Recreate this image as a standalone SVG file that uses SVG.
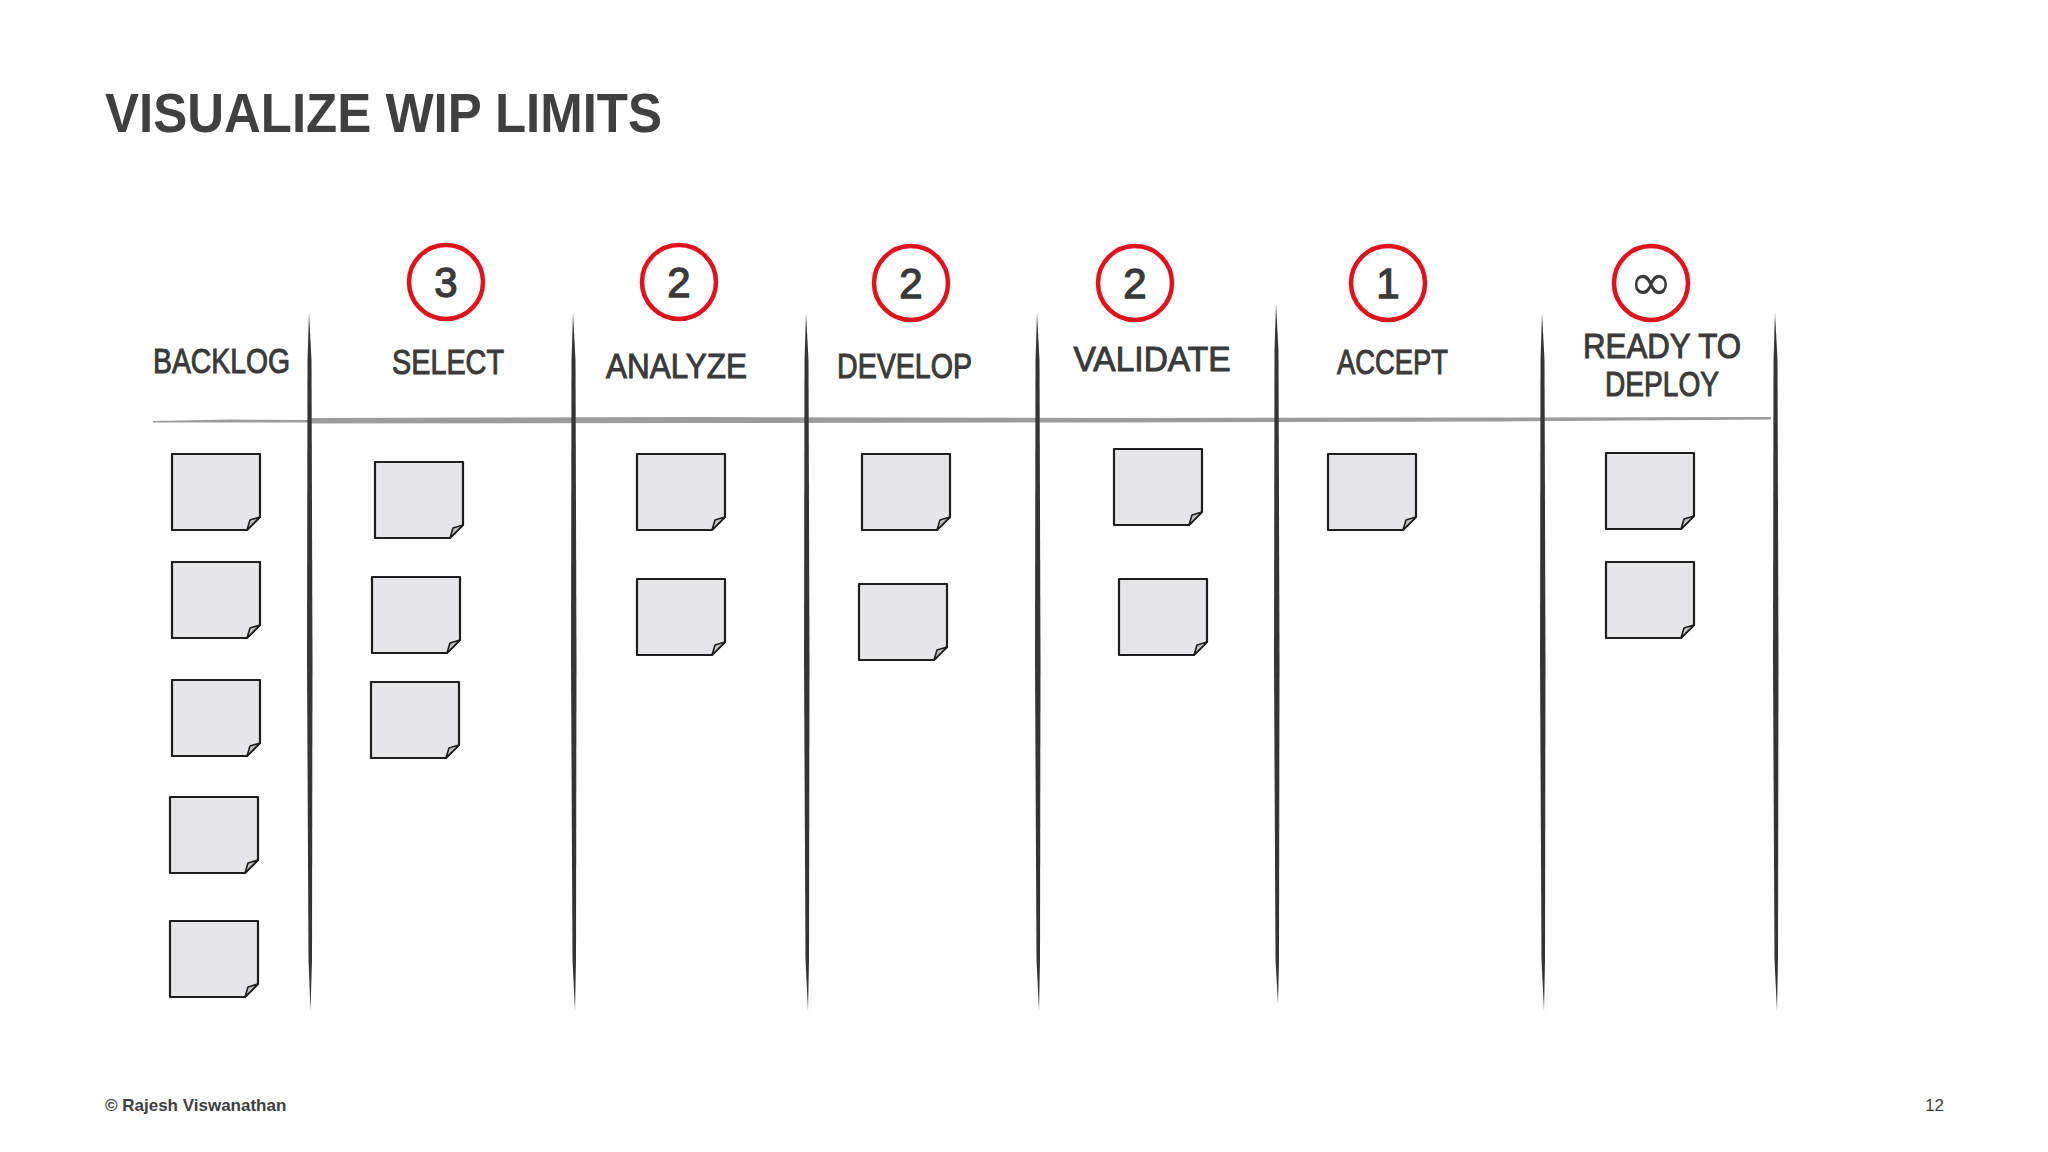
<svg xmlns="http://www.w3.org/2000/svg" width="2048" height="1152" viewBox="0 0 2048 1152">
<defs>
<style>
.title{font-family:"Liberation Sans",Arial,sans-serif;font-weight:bold;font-size:56px;fill:#404040}
.lbl{font-family:"Liberation Sans",Arial,sans-serif;font-size:35px;fill:#3a3a3a;stroke:#3a3a3a;stroke-width:1;text-anchor:middle}
.num{font-family:"Liberation Sans",Arial,sans-serif;font-size:42px;fill:#3a3a3a;stroke:#3a3a3a;stroke-width:1.3;text-anchor:middle}
.inf{font-family:"DejaVu Sans",sans-serif;font-size:52px;fill:#3a3a3a;text-anchor:middle}
.ring{fill:none;stroke:#e1121c;stroke-width:4.5}
.foot{font-family:"Liberation Sans",Arial,sans-serif;font-size:17px;fill:#404040}
.col{fill:#353535}
.note{fill:#e6e5e8;stroke:#1e1e1e;stroke-width:2.2;stroke-linejoin:round}
.fold{fill:#c4c4c6;stroke:#1e1e1e;stroke-width:1.6;stroke-linejoin:round}
</style>
<g id="sticky">
<path class="note" d="M0,0 H88 V63 L75,76 H0 Z"/>
<path class="fold" d="M88,63 L75,76 L78,66 Z"/>
</g>
</defs>
<rect width="2048" height="1152" fill="#ffffff"/>
<text class="title" x="105" y="132" textLength="557" lengthAdjust="spacingAndGlyphs">VISUALIZE WIP LIMITS</text>

<g id="board-lines">
<path fill="#9c9c9c" d="M153,421 L230,419.5 L309,420 L309,422.5 L230,422.5 L153,422.5 Z"/>
<path fill="#9c9c9c" d="M309,418 L700,417 L1100,418 L1500,417.5 L1771,417 L1771,419.5 L1500,421.5 L1100,422.5 L700,423 L309,423.5 Z"/>
<path class="col" d="M309,313 L311.5,360 L312.5,660 L312,960 L310.5,1011 L308.5,960 L307,660 L307.5,360 Z"/>
<path class="col" d="M573,313 L575.5,360 L576.5,660 L576,960 L575,1011 L572.5,960 L571,660 L571.5,360 Z"/>
<path class="col" d="M806,313 L808.5,360 L809.5,660 L809,960 L808,1011 L805.5,960 L804,660 L804.5,360 Z"/>
<path class="col" d="M1037,313 L1039.5,360 L1040.5,660 L1040,960 L1039,1011 L1036.5,960 L1035,660 L1035.5,360 Z"/>
<path class="col" d="M1276,304 L1278.5,350 L1279.5,660 L1279,960 L1278,1004 L1275.5,960 L1274,660 L1274.5,350 Z"/>
<path class="col" d="M1542,313 L1544.5,360 L1545.5,660 L1545,960 L1544,1011 L1541.5,960 L1540,660 L1540.5,360 Z"/>
<path class="col" d="M1775,313 L1777.5,360 L1778.5,660 L1778,960 L1777,1011 L1774.5,960 L1773,660 L1773.5,360 Z"/>
</g>

<g id="col-backlog">
<text class="lbl" x="221.5" y="373" textLength="137" lengthAdjust="spacingAndGlyphs">BACKLOG</text>
<use href="#sticky" x="172" y="454"/>
<use href="#sticky" x="172" y="562"/>
<use href="#sticky" x="172" y="680"/>
<use href="#sticky" x="170" y="797"/>
<use href="#sticky" x="170" y="921"/>
</g>

<g id="col-select">
<circle class="ring" cx="446" cy="282" r="37"/>
<text class="num" x="446" y="297">3</text>
<text class="lbl" x="448" y="374" textLength="112" lengthAdjust="spacingAndGlyphs">SELECT</text>
<use href="#sticky" x="375" y="462"/>
<use href="#sticky" x="372" y="577"/>
<use href="#sticky" x="371" y="682"/>
</g>

<g id="col-analyze">
<circle class="ring" cx="679" cy="282" r="37"/>
<text class="num" x="679" y="297">2</text>
<text class="lbl" x="676.5" y="378" textLength="141" lengthAdjust="spacingAndGlyphs">ANALYZE</text>
<use href="#sticky" x="637" y="454"/>
<use href="#sticky" x="637" y="579"/>
</g>

<g id="col-develop">
<circle class="ring" cx="911" cy="283" r="37"/>
<text class="num" x="911" y="298">2</text>
<text class="lbl" x="904.5" y="378" textLength="135" lengthAdjust="spacingAndGlyphs">DEVELOP</text>
<use href="#sticky" x="862" y="454"/>
<use href="#sticky" x="859" y="584"/>
</g>

<g id="col-validate">
<circle class="ring" cx="1135" cy="283" r="37"/>
<text class="num" x="1135" y="298">2</text>
<text class="lbl" x="1152" y="371" textLength="157" lengthAdjust="spacingAndGlyphs">VALIDATE</text>
<use href="#sticky" x="1114" y="449"/>
<use href="#sticky" x="1119" y="579"/>
</g>

<g id="col-accept">
<circle class="ring" cx="1388" cy="283" r="37"/>
<text class="num" x="1388" y="298">1</text>
<text class="lbl" x="1392.5" y="374" textLength="111" lengthAdjust="spacingAndGlyphs">ACCEPT</text>
<use href="#sticky" x="1328" y="454"/>
</g>

<g id="col-ready">
<circle class="ring" cx="1651" cy="283" r="37"/>
<text class="inf" x="1651" y="300">∞</text>
<text class="lbl" x="1662" y="358" textLength="158" lengthAdjust="spacingAndGlyphs">READY TO</text>
<text class="lbl" x="1662" y="396" textLength="114" lengthAdjust="spacingAndGlyphs">DEPLOY</text>
<use href="#sticky" x="1606" y="453"/>
<use href="#sticky" x="1606" y="562"/>
</g>

<text class="foot" x="105" y="1111" font-weight="bold">© Rajesh Viswanathan</text>
<text class="foot" x="1925" y="1111" fill="#555555">12</text>
</svg>
